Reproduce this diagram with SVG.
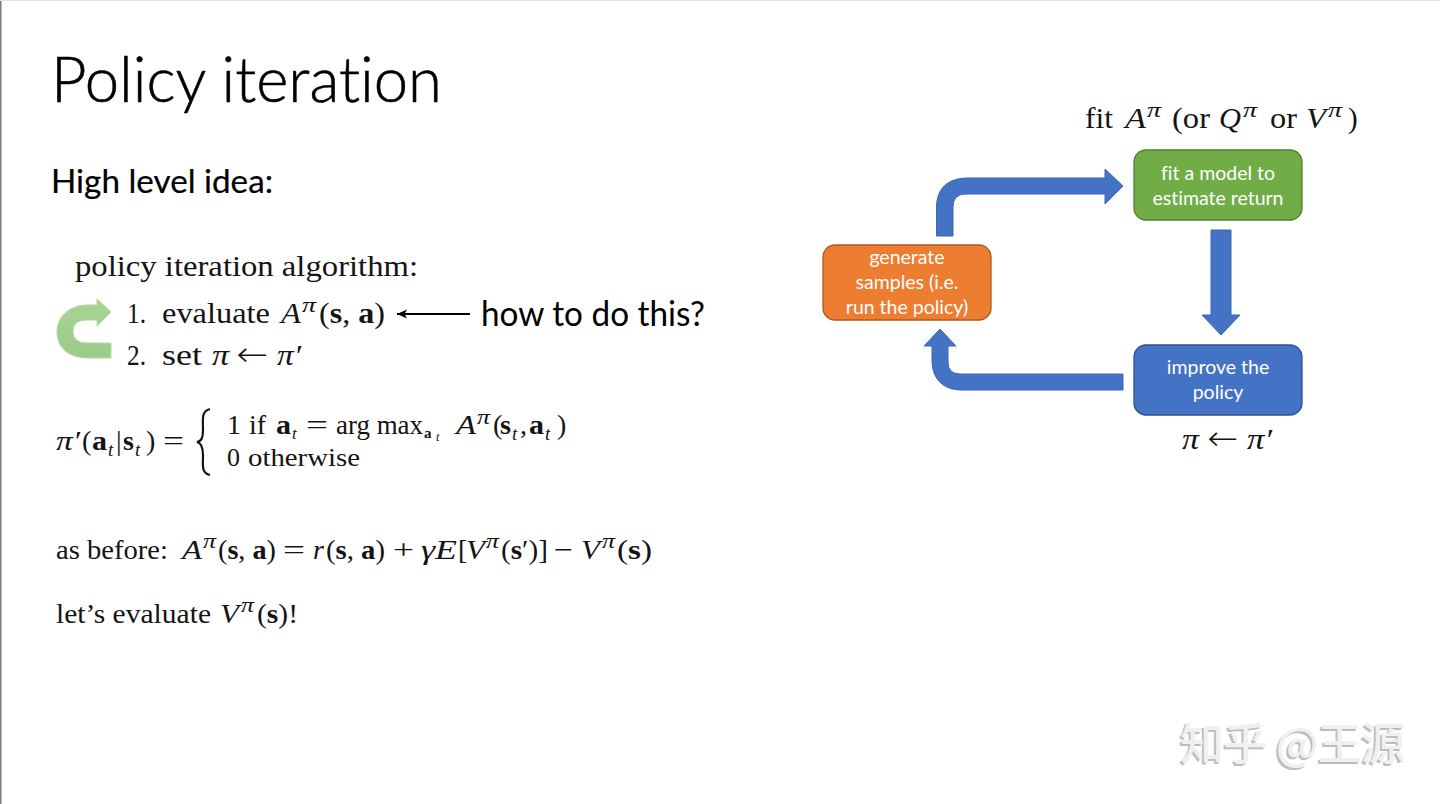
<svg xmlns="http://www.w3.org/2000/svg" width="1440" height="804" viewBox="0 0 1440 804">
<style>
text{font-family:"Liberation Serif","Times New Roman",serif;fill:#141414;font-size:29px;font-variant-ligatures:none}
.i{font-style:italic}
.b{font-weight:bold}
.s{font-size:21px}
.ss{font-size:19px}
.m{font-size:28px}
.ar{font-family:"DejaVu Sans",sans-serif;font-size:34px;font-weight:200}
.c{font-family:Lato,"Open Sans",sans-serif;fill:#000}
.n{font-family:Lato,"Open Sans",sans-serif;fill:#fff;font-size:19.5px;text-anchor:middle}
.w{font-family:"Noto Sans CJK SC",sans-serif;font-size:44px;font-weight:500}
.arrow{fill:#4472c4;stroke:#3a66b4;stroke-width:1}
</style>
<defs>
<linearGradient id="g" x1="0" y1="0" x2="0" y2="1"><stop offset="0" stop-color="#a9d394"/><stop offset="1" stop-color="#9dcb88"/></linearGradient>
<marker id="head" markerWidth="11" markerHeight="10" refX="10" refY="5" orient="auto" markerUnits="userSpaceOnUse"><path d="M0 0.5L10 5L0 9.5L2.5 5Z" fill="#000"/></marker>
</defs>
<rect width="1440" height="804" fill="#fff"/>
<path d="M0.5 0V804" stroke="#7a7a7a" stroke-width="2" fill="none"/>
<path d="M0 0.5H1440" stroke="#e4e4e4" stroke-width="1" fill="none"/>

<g id="title"><text class="c" x="51" y="102" style="font-size:64px;font-weight:300;stroke:#000;stroke-width:.6" textLength="391" lengthAdjust="spacingAndGlyphs">Policy iteration</text></g>
<g id="heading"><text class="c" x="51" y="193" style="font-size:32px;stroke:#000;stroke-width:.2" textLength="222" lengthAdjust="spacingAndGlyphs">High level idea:</text></g>

<g id="algorithm">
<text x="75" y="276" textLength="343" lengthAdjust="spacingAndGlyphs">policy iteration algorithm:</text>
<text x="127" y="323" textLength="19" lengthAdjust="spacingAndGlyphs">1.</text>
<text x="162" y="323" textLength="108" lengthAdjust="spacingAndGlyphs">evaluate</text>
<text class="i" x="281" y="323" textLength="20" lengthAdjust="spacingAndGlyphs">A</text><text class="i s" x="302" y="312" textLength="14" lengthAdjust="spacingAndGlyphs">π</text>
<text x="319" y="323" textLength="66" lengthAdjust="spacingAndGlyphs"><tspan>(</tspan><tspan class="b">s</tspan><tspan>,</tspan><tspan class="b"> a</tspan><tspan>)</tspan></text>
<text x="127" y="365" textLength="19" lengthAdjust="spacingAndGlyphs">2.</text>
<text x="162" y="365" textLength="40" lengthAdjust="spacingAndGlyphs">set</text>
<text class="i" x="212" y="365" textLength="17" lengthAdjust="spacingAndGlyphs">π</text>
<text class="ar" x="236" y="366" textLength="32" lengthAdjust="spacingAndGlyphs">←</text>
<text class="i" x="277" y="365" textLength="24" lengthAdjust="spacingAndGlyphs">π′</text>
<text class="c" x="481" y="326" style="font-size:34px" textLength="224" lengthAdjust="spacingAndGlyphs">how to do this?</text>
</g>

<g id="policy-formula">
<text class="i m" x="56" y="450" textLength="24" lengthAdjust="spacingAndGlyphs">π′</text>
<text class="m" x="82" y="450">(</text><text class="b m" x="92" y="450" textLength="15" lengthAdjust="spacingAndGlyphs">a</text><text class="i ss" x="108" y="456">t</text>
<text class="m" x="116" y="450">|</text><text class="b m" x="123" y="450">s</text><text class="i ss" x="135" y="456">t</text><text class="m" x="146" y="450">)</text>
<text class="m" x="163" y="450" textLength="21" lengthAdjust="spacingAndGlyphs">=</text>
<path d="M210 409C201 411 203 420 203 430C203 437 202 441 197 442C202 443 203 448 203 455C203 465 201 473 210 475" fill="none" stroke="#141414" stroke-width="2.2"/>
<text class="m" x="227" y="434">1</text><text class="m" x="249" y="434" textLength="17" lengthAdjust="spacingAndGlyphs">if</text>
<text class="b m" x="276" y="434" textLength="15" lengthAdjust="spacingAndGlyphs">a</text><text class="i" x="292" y="439" style="font-size:17px">t</text>
<text class="m" x="306" y="434" textLength="22" lengthAdjust="spacingAndGlyphs">=</text>
<text class="m" x="336" y="434" textLength="87" lengthAdjust="spacingAndGlyphs">arg max</text>
<text class="b" x="424" y="438" style="font-size:15px">a</text><text class="i" x="436" y="441" style="font-size:12px">t</text>
<text class="i m" x="456" y="434" textLength="20" lengthAdjust="spacingAndGlyphs">A</text><text class="i s" x="477" y="424" textLength="13" lengthAdjust="spacingAndGlyphs">π</text>
<text class="m" x="493" y="434">(</text><text class="b m" x="500" y="434" textLength="11" lengthAdjust="spacingAndGlyphs">s</text><text class="i ss" x="512" y="440">t</text><text class="m" x="520" y="434">,</text>
<text class="b m" x="529" y="434" textLength="15" lengthAdjust="spacingAndGlyphs">a</text><text class="i ss" x="545" y="440">t</text><text class="m" x="557" y="434">)</text>
<text class="m" x="227" y="466" style="font-size:26px">0</text><text class="m" x="248" y="466" style="font-size:26px" textLength="112" lengthAdjust="spacingAndGlyphs">otherwise</text>
</g>

<g id="advantage">
<text class="m" x="56" y="559" textLength="112" lengthAdjust="spacingAndGlyphs">as before:</text>
<text class="i m" x="182" y="559" textLength="20" lengthAdjust="spacingAndGlyphs">A</text><text class="i s" x="203" y="548" textLength="13" lengthAdjust="spacingAndGlyphs">π</text>
<text class="m" x="218" y="559" textLength="58" lengthAdjust="spacingAndGlyphs"><tspan>(</tspan><tspan class="b">s</tspan><tspan>,</tspan><tspan class="b"> a</tspan><tspan>)</tspan></text>
<text class="m" x="283" y="559" textLength="22" lengthAdjust="spacingAndGlyphs">=</text>
<text class="i m" x="313" y="559">r</text>
<text class="m" x="326" y="559" textLength="59" lengthAdjust="spacingAndGlyphs"><tspan>(</tspan><tspan class="b">s</tspan><tspan>,</tspan><tspan class="b"> a</tspan><tspan>)</tspan></text>
<text class="m" x="393" y="559" textLength="21" lengthAdjust="spacingAndGlyphs">+</text>
<text class="i m" x="421" y="559" textLength="36" lengthAdjust="spacingAndGlyphs">γE</text>
<text class="m" x="458" y="559">[</text>
<text class="i m" x="466" y="559" textLength="19" lengthAdjust="spacingAndGlyphs">V</text><text class="i s" x="486" y="548" textLength="13" lengthAdjust="spacingAndGlyphs">π</text>
<text class="m" x="501" y="559" textLength="47" lengthAdjust="spacingAndGlyphs"><tspan>(</tspan><tspan class="b">s</tspan><tspan>′)]</tspan></text>
<text class="m" x="554" y="559" textLength="19" lengthAdjust="spacingAndGlyphs">−</text>
<text class="i m" x="581" y="559" textLength="19" lengthAdjust="spacingAndGlyphs">V</text><text class="i s" x="602" y="548" textLength="13" lengthAdjust="spacingAndGlyphs">π</text>
<text class="m" x="617" y="559" textLength="35" lengthAdjust="spacingAndGlyphs"><tspan>(</tspan><tspan class="b">s</tspan><tspan>)</tspan></text>
</g>

<g id="evaluate-value">
<text class="m" x="56" y="623" textLength="155" lengthAdjust="spacingAndGlyphs">let’s evaluate</text>
<text class="i m" x="220" y="623" textLength="19" lengthAdjust="spacingAndGlyphs">V</text><text class="i s" x="241" y="612" textLength="13" lengthAdjust="spacingAndGlyphs">π</text>
<text class="m" x="257" y="623" textLength="41" lengthAdjust="spacingAndGlyphs"><tspan>(</tspan><tspan class="b">s</tspan><tspan>)!</tspan></text>
</g>

<g id="fit-label">
<text x="1085" y="128" textLength="28" lengthAdjust="spacingAndGlyphs">fit</text>
<text class="i" x="1125" y="128" textLength="21" lengthAdjust="spacingAndGlyphs">A</text><text class="i s" x="1147" y="117" textLength="14" lengthAdjust="spacingAndGlyphs">π</text>
<text x="1172" y="128" textLength="38" lengthAdjust="spacingAndGlyphs">(or</text>
<text class="i" x="1219" y="128" textLength="22" lengthAdjust="spacingAndGlyphs">Q</text><text class="i s" x="1243" y="117" textLength="14" lengthAdjust="spacingAndGlyphs">π</text>
<text x="1270" y="128" textLength="27" lengthAdjust="spacingAndGlyphs">or</text>
<text class="i" x="1306" y="128" textLength="20" lengthAdjust="spacingAndGlyphs">V</text><text class="i s" x="1328" y="117" textLength="14" lengthAdjust="spacingAndGlyphs">π</text>
<text x="1348" y="128">)</text>
</g>
<g id="improve-label">
<text class="i" x="1182" y="449" textLength="17" lengthAdjust="spacingAndGlyphs">π</text>
<text class="ar" x="1207" y="450" textLength="31" lengthAdjust="spacingAndGlyphs">←</text>
<text class="i" x="1247" y="449" textLength="25" lengthAdjust="spacingAndGlyphs">π′</text>
</g>

<g id="connectors">
<path d="M111 312L97 299V305H88C68 305 57 318 57 332C57 347 68 358 88 358H111V343H87Q73 343 73 331Q73 320 87 320H97V326Z" fill="url(#g)" stroke="#b7d9a6" stroke-width="1"/>
<path d="M470 314H397" stroke="#000" stroke-width="2" fill="none" marker-end="url(#head)"/>
<path class="arrow" d="M936.500 236V208C936.500 188 948 178 968 178H1105V169L1123 186L1105 204V194H966Q953 194 953 207V236Z"/>
<path class="arrow" d="M1211 230H1231V315H1240L1221 335L1202 315H1211Z"/>
<path class="arrow" d="M1123 374H960Q948 374 948 362V346H956L940 329L924 346H932V360C932 380 944 390 962 390H1123Z"/>
</g>

<g id="node-fit">
<rect x="1134" y="150" width="168" height="70" rx="12" fill="#70ad47" stroke="#507e32" stroke-width="1.3"/>
<text class="n" x="1218" y="180">fit a model to</text><text class="n" x="1218" y="205">estimate return</text>
</g>
<g id="node-generate">
<rect x="823" y="245" width="168" height="75" rx="12" fill="#ed7d31" stroke="#ae5a21" stroke-width="1.3"/>
<text class="n" x="907" y="264">generate</text><text class="n" x="907" y="289">samples (i.e.</text><text class="n" x="907" y="314">run the policy)</text>
</g>
<g id="node-improve">
<rect x="1134" y="345" width="168" height="70" rx="12" fill="#4472c4" stroke="#2f528f" stroke-width="1.3"/>
<text class="n" x="1218" y="374">improve the</text><text class="n" x="1218" y="399">policy</text>
</g>

<g id="watermark">
<text class="w" x="1178" y="762" style="fill:#bdbdbd" textLength="225" lengthAdjust="spacing">知乎 @王源</text>
<text class="w" x="1180" y="760" style="fill:#f0f0f0" textLength="225" lengthAdjust="spacing">知乎 @王源</text>
</g>
</svg>
